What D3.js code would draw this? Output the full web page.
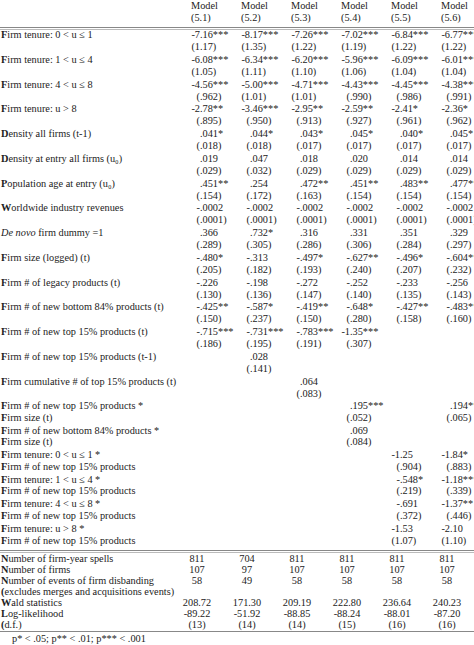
<!DOCTYPE html>
<html><head><meta charset="utf-8">
<script src="https://cdn.jsdelivr.net/npm/d3@7"></script>
<style>body{margin:0;background:#fff}text{font-family:"Liberation Serif","Times New Roman",serif;font-size:10.3px;fill:#222}</style>
</head><body><div id="viz"></div>
<script>
// Models (columns)
const models = ["(5.1)", "(5.2)", "(5.3)", "(5.4)", "(5.5)", "(5.6)"];

// Coefficient rows: label lines, estimate per model, standard error per model
const rowLabels = [
  ["Firm tenure:  0 < u ≤ 1"],
  ["Firm tenure:  1 < u ≤ 4"],
  ["Firm tenure:  4 < u ≤ 8"],
  ["Firm tenure:  u > 8"],
  ["Density all firms  (t-1)"],
  ["Density at entry all firms (u₀)"],
  ["Population age at entry (u₀)"],
  ["Worldwide industry revenues"],
  ["De novo firm dummy  =1"],
  ["Firm size (logged) (t)"],
  ["Firm # of legacy products (t)"],
  ["Firm # of new bottom 84% products (t)"],
  ["Firm # of new top 15% products (t)"],
  ["Firm # of new top 15% products  (t-1)"],
  ["Firm cumulative # of top 15% products (t)"],
  ["Firm # of new top 15% products *", "Firm size (t)"],
  ["Firm # of new bottom 84% products *", "Firm size (t)"],
  ["Firm tenure:  0 < u ≤ 1 *", "Firm # of new top 15%  products"],
  ["Firm tenure:  1 < u ≤ 4 *", "Firm # of new top 15%  products"],
  ["Firm tenure:  4 < u ≤ 8 *", "Firm # of new top 15%  products"],
  ["Firm tenure:  u > 8 *", "Firm # of new top 15%  products"]
];
const estimates = [
  ["-7.16***", "-8.17***", "-7.26***", "-7.02***", "-6.84***", "-6.77***"],
  ["-6.08***", "-6.34***", "-6.20***", "-5.96***", "-6.09***", "-6.01***"],
  ["-4.56***", "-5.00***", "-4.71***", "-4.43***", "-4.45***", "-4.38***"],
  ["-2.78**", "-3.46***", "-2.95**", "-2.59**", "-2.41*", "-2.36*"],
  [".041*", ".044*", ".043*", ".045*", ".040*", ".045*"],
  [".019", ".047", ".018", ".020", ".014", ".014"],
  [".451**", ".254", ".472**", ".451**", ".483**", ".477**"],
  ["-.0002", "-.0002", "-.0002", "-.0002", "-.0002", "-.0002"],
  [".366", ".732*", ".316", ".331", ".351", ".329"],
  ["-.480*", "-.313", "-.497*", "-.627**", "-.496*", "-.604**"],
  ["-.226", "-.198", "-.272", "-.252", "-.233", "-.256"],
  ["-.425**", "-.587*", "-.419**", "-.648*", "-.427**", "-.483**"],
  ["-.715***", "-.731***", "-.783***", "-1.35***", null, null],
  [null, ".028", null, null, null, null],
  [null, null, ".064", null, null, null],
  [null, null, null, ".195***", null, ".194**"],
  [null, null, null, ".069", null, null],
  [null, null, null, null, "-1.25", "-1.84*"],
  [null, null, null, null, "-.548*", "-1.18***"],
  [null, null, null, null, "-.691", "-1.37**"],
  [null, null, null, null, "-1.53", "-2.10"]
];
const stdErrors = [
  ["(1.17)", "(1.35)", "(1.22)", "(1.19)", "(1.22)", "(1.22)"],
  ["(1.05)", "(1.11)", "(1.10)", "(1.06)", "(1.04)", "(1.04)"],
  ["(.962)", "(1.01)", "(1.01)", "(.990)", "(.986)", "(.991)"],
  ["(.895)", "(.950)", "(.913)", "(.927)", "(.961)", "(.962)"],
  ["(.018)", "(.018)", "(.017)", "(.017)", "(.017)", "(.017)"],
  ["(.029)", "(.032)", "(.029)", "(.029)", "(.029)", "(.029)"],
  ["(.154)", "(.172)", "(.163)", "(.154)", "(.154)", "(.154)"],
  ["(.0001)", "(.0001)", "(.0001)", "(.0001)", "(.0001)", "(.0001)"],
  ["(.289)", "(.305)", "(.286)", "(.306)", "(.284)", "(.297)"],
  ["(.205)", "(.182)", "(.193)", "(.240)", "(.207)", "(.232)"],
  ["(.130)", "(.136)", "(.147)", "(.140)", "(.135)", "(.143)"],
  ["(.150)", "(.237)", "(.150)", "(.280)", "(.158)", "(.160)"],
  ["(.186)", "(.195)", "(.191)", "(.307)", null, null],
  [null, "(.141)", null, null, null, null],
  [null, null, "(.083)", null, null, null],
  [null, null, null, "(.052)", null, "(.065)"],
  [null, null, null, "(.084)", null, null],
  [null, null, null, null, "(.904)", "(.883)"],
  [null, null, null, null, "(.219)", "(.339)"],
  [null, null, null, null, "(.372)", "(.446)"],
  [null, null, null, null, "(1.07)", "(1.10)"]
];

// Summary statistics
const statLabels = ["Number of firm-year spells", "Number of firms", "Number of events of firm disbanding",
  "(excludes merges and acquisitions events)", "Wald statistics", "Log-likelihood", "(d.f.)"];
const statValues = [
  ["811", "704", "811", "811", "811", "811"],
  ["107", "97", "107", "107", "107", "107"],
  ["58", "49", "58", "58", "58", "58"],
  null,
  ["208.72", "171.30", "209.19", "222.80", "236.64", "240.23"],
  ["-89.22", "-51.92", "-88.85", "-88.24", "-88.01", "-87.20"],
  ["(13)", "(14)", "(14)", "(15)", "(16)", "(16)"]
];
const footnote = "p* < .05;  p** < .01; p*** < .001";

const W = 474, H = 645;
const svg = d3.select("#viz").append("svg").attr("width", W).attr("height", H);

// decimal point x for each model column
const colX = d3.scalePoint().domain(models).range([200, 450]);
const labelX = 1;

// vertical positions of coefficient rows (estimate line, se line 12px below)
const rowY = d3.scaleLinear().domain([0, 12]).range([38, 335]);
const tallRowY = d3.scaleLinear().domain([13, 14]).range([360, 385]);
const interY = d3.scaleLinear().domain([15, 20]).range([409, 532]);
function yOf(i) { return i <= 12 ? rowY(i) : i <= 14 ? tallRowY(i) : interY(i); }
const lineGap = i => i <= 14 ? 12 : 11.5;

function decimalText(g, s, x, y) {
  const k = s.indexOf(".");
  if (k < 0) { g.append("text").attr("x", x - 3).attr("y", y).attr("text-anchor", "middle").text(s); return; }
  const pre = s.slice(0, k);
  if (pre) g.append("text").attr("x", x).attr("y", y).attr("text-anchor", "end").text(pre);
  g.append("text").attr("x", x).attr("y", y).text(s.slice(k));
}
function labelText(g, s, y) {
  const t = g.append("text").attr("x", labelX).attr("y", y);
  if (s.startsWith("De novo")) {
    t.append("tspan").attr("font-style", "italic").text("De novo");
    t.append("tspan").text(s.slice(7));
  } else {
    t.append("tspan").attr("font-weight", "bold").text(s[0]);
    t.append("tspan").text(s.slice(1));
  }
}

// header
models.forEach(m => {
  svg.append("text").attr("x", colX(m) - 9).attr("y", 9).text("Model");
  svg.append("text").attr("x", colX(m) - 9).attr("y", 21).text(m);
});
svg.append("line").attr("x1", 0).attr("x2", W).attr("y1", 27.5).attr("y2", 27.5).attr("stroke", "#888").attr("stroke-width", 1);
svg.append("line").attr("x1", 0).attr("x2", W).attr("y1", 29.5).attr("y2", 29.5).attr("stroke", "#aaa").attr("stroke-width", 0.8);

const body = svg.append("g");
rowLabels.forEach((lab, i) => {
  const y = yOf(i), gap = lineGap(i);
  lab.forEach((s, j) => labelText(body, s, y + j * gap));
  models.forEach((m, c) => {
    if (estimates[i][c]) decimalText(body, estimates[i][c], colX(m), y);
    if (stdErrors[i][c]) decimalText(body, stdErrors[i][c], colX(m), y + gap);
  });
});

// separator
svg.append("line").attr("x1", 0).attr("x2", W).attr("y1", 550.5).attr("y2", 550.5).attr("stroke", "#888");
svg.append("line").attr("x1", 0).attr("x2", W).attr("y1", 552.5).attr("y2", 552.5).attr("stroke", "#aaa").attr("stroke-width", 0.8);

const statY = d3.scaleLinear().domain([0, 6]).range([562, 628]);
statLabels.forEach((s, i) => {
  labelText(svg, s, statY(i));
  if (statValues[i]) models.forEach((m, c) => {
    const v = statValues[i][c];
    svg.append("text").attr("x", colX(m) - 3).attr("y", statY(i)).attr("text-anchor", "middle").text(v);
  });
});
svg.append("line").attr("x1", 0).attr("x2", W).attr("y1", 631.5).attr("y2", 631.5).attr("stroke", "#888");
svg.append("text").attr("x", 12).attr("y", 642).text(footnote);
</script></body></html>
